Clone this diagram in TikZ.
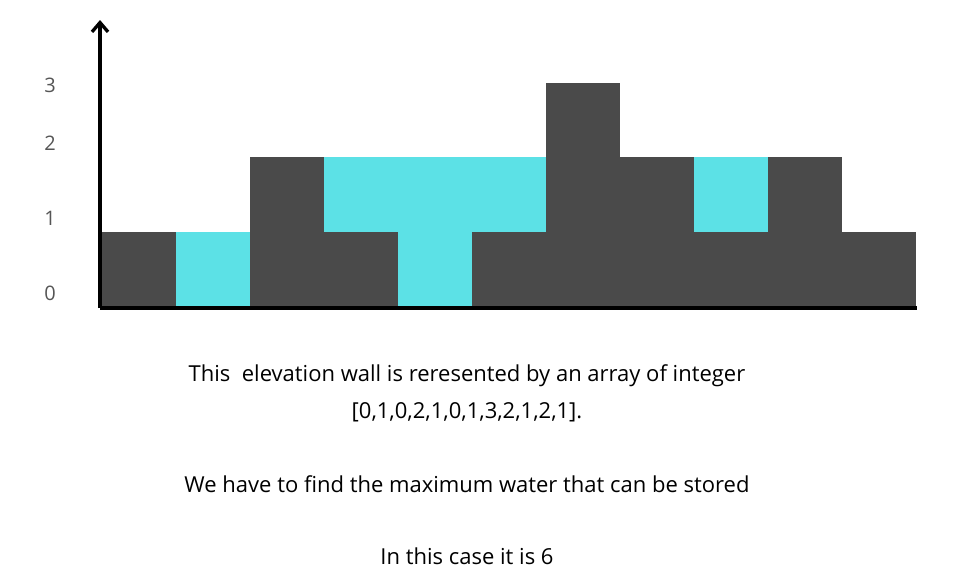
\documentclass[tikz,border=0pt]{standalone}
\usepackage{fontspec}
\setmainfont{Open Sans}
\usetikzlibrary{arrows.meta}
\definecolor{wall}{HTML}{4A4A4A}
\definecolor{water}{HTML}{5CE1E6}
\definecolor{ticktxt}{HTML}{555555}
\tikzset{
  cell/.style={line width=0.3pt},
  ticklabel/.style={text=ticktxt,font=\fontsize{15}{18}\selectfont},
  caption/.style={font=\fontsize{16.5}{20}\selectfont,align=center}
}
\begin{document}
\begin{tikzpicture}[x=0.75pt,y=0.75pt,yscale=-1,xscale=1]
\useasboundingbox (0,0) rectangle (960,578);

% cells: column / row / colour
\foreach \c/\r/\col in {0/0/wall,1/0/water,2/0/wall,2/1/wall,3/0/wall,3/1/water,
  4/0/water,4/1/water,5/0/wall,5/1/water,6/0/wall,6/1/wall,6/2/wall,
  7/0/wall,7/1/wall,8/0/wall,8/1/water,9/0/wall,9/1/wall,10/0/wall}
  \fill[\col,cell] ({102+74*\c},{306-74.5*\r}) rectangle ++(74,-74.5);

% axes
\coordinate (o) at (100,308);
\coordinate (ytop) at (100,20);
\coordinate (xend) at (917,308);
\draw[line width=2.5pt,-{Straight Barb[length=7pt,width=12pt]}] (o) -- (ytop);
\draw[line width=2.5pt] (o) -- (xend);

% tick labels
\node[ticklabel] (t0) at (50,293) {0};
\node[ticklabel] (t1) at (50,218) {1};
\node[ticklabel] (t2) at (50,143) {2};
\node[ticklabel] (t3) at (50,85) {3};

% text
\node[caption] (line1) at (467,376) {This\ \ elevation wall is reresented by an array of integer};
\node[caption] (line2) at (467,412) {[0,1,0,2,1,0,1,3,2,1,2,1].};
\node[caption] (line3) at (467,484) {We have to find the maximum water that can be stored};
\node[caption] (line4) at (467,556) {In this case it is 6};
\end{tikzpicture}
\end{document}
